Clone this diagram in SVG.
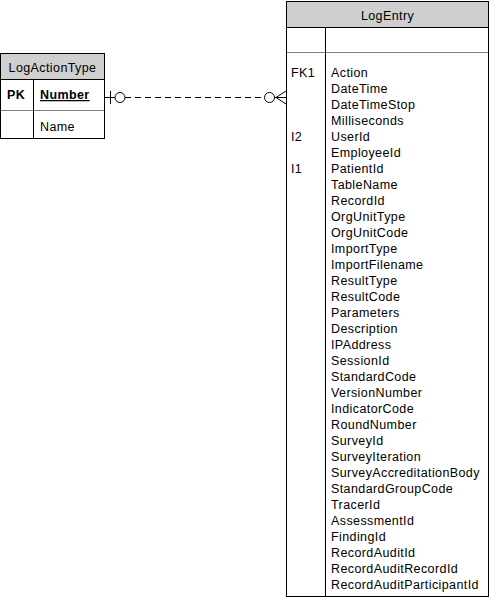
<svg xmlns="http://www.w3.org/2000/svg" width="491" height="599" viewBox="0 0 491 599">
<style>
text{font-family:"Liberation Sans",Arial,sans-serif;font-size:12.5px;letter-spacing:0.4px;fill:#000}
.hdr{fill:#cfcfcf;stroke:#000;stroke-width:1}
.box{fill:#fff;stroke:#000;stroke-width:1}
.ln{stroke:#000;stroke-width:1;fill:none}
.gl{stroke:#808080;stroke-width:1;fill:none}
.b{font-weight:bold}
</style>
<rect width="491" height="599" fill="#fff"/>
<g id="LogActionType">
<rect class="box" x="0.5" y="53.5" width="104" height="85"/>
<rect class="hdr" x="0.5" y="53.5" width="104" height="26"/>
<line class="gl" x1="1" y1="110.5" x2="104" y2="110.5"/>
<line class="ln" x1="33.5" y1="80" x2="33.5" y2="138"/>
<text x="52.5" y="71.5" text-anchor="middle">LogActionType</text>
<text class="b" x="7" y="99">PK</text>
<text class="b" x="40" y="99" text-decoration="underline">Number</text>
<text x="40" y="130.5">Name</text>
</g>
<g id="LogEntry">
<rect class="box" x="286.5" y="1.5" width="202" height="595"/>
<rect class="hdr" x="286.5" y="1.5" width="202" height="26"/>
<line class="gl" x1="287" y1="52.5" x2="488" y2="52.5"/>
<line class="ln" x1="325.5" y1="28" x2="325.5" y2="596"/>
<text x="387.5" y="19.5" text-anchor="middle">LogEntry</text>
<text x="291" y="76.5">FK1</text>
<text x="291" y="140.5">I2</text>
<text x="291" y="172.5">I1</text>
<g transform="translate(331,0.5)">
<text y="76">Action</text>
<text y="92">DateTime</text>
<text y="108">DateTimeStop</text>
<text y="124">Milliseconds</text>
<text y="140">UserId</text>
<text y="156">EmployeeId</text>
<text y="172">PatientId</text>
<text y="188">TableName</text>
<text y="204">RecordId</text>
<text y="220">OrgUnitType</text>
<text y="236">OrgUnitCode</text>
<text y="252">ImportType</text>
<text y="268">ImportFilename</text>
<text y="284">ResultType</text>
<text y="300">ResultCode</text>
<text y="316">Parameters</text>
<text y="332">Description</text>
<text y="348">IPAddress</text>
<text y="364">SessionId</text>
<text y="380">StandardCode</text>
<text y="396">VersionNumber</text>
<text y="412">IndicatorCode</text>
<text y="428">RoundNumber</text>
<text y="444">SurveyId</text>
<text y="460">SurveyIteration</text>
<text y="476">SurveyAccreditationBody</text>
<text y="492">StandardGroupCode</text>
<text y="508">TracerId</text>
<text y="524">AssessmentId</text>
<text y="540">FindingId</text>
<text y="556">RecordAuditId</text>
<text y="572">RecordAuditRecordId</text>
<text y="588">RecordAuditParticipantId</text>
</g>
</g>
<g id="connectors">
<line class="ln" x1="105" y1="97.5" x2="115" y2="97.5"/>
<line class="ln" x1="110.5" y1="91" x2="110.5" y2="104"/>
<circle class="ln" cx="120" cy="97.5" r="5"/>
<line class="ln" x1="125" y1="97.5" x2="264" y2="97.5" stroke-dasharray="6,4"/>
<circle class="ln" cx="269.5" cy="97.5" r="5"/>
<line class="ln" x1="274.5" y1="97.5" x2="286" y2="97.5"/>
<line class="ln" x1="276" y1="97.5" x2="286" y2="91"/>
<line class="ln" x1="276" y1="97.5" x2="286" y2="104"/>
</g>
</svg>
